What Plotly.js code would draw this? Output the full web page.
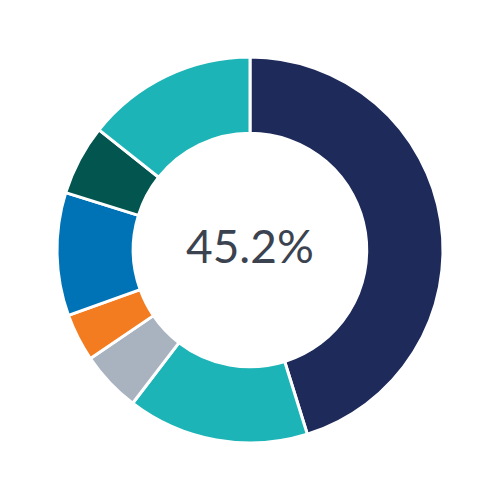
<!DOCTYPE html>
<html>
<head>
<meta charset="utf-8">
<script src="https://cdn.plot.ly/plotly-3.0.1.min.js"></script>
<style>html,body{margin:0;padding:0;background:#fff;}#chart{width:500px;height:500px;}</style>
</head>
<body>
<div id="chart"></div>
<script>
const categories = ["Segment A", "Segment B", "Segment C", "Segment D", "Segment E", "Segment F", "Segment G"];
const values = [45.2, 15.2, 5.1, 4.0, 10.3, 5.9, 14.3];
const colors = ["#1d2a5a", "#1cb4b7", "#a9b3c0", "#f37c20", "#0073b6", "#03554f", "#1cb4b7"];
const centerLabel = "45.2%";

Plotly.newPlot("chart", [{
  type: "pie",
  labels: categories,
  values: values,
  hole: 0.605,
  sort: false,
  direction: "clockwise",
  rotation: 0,
  textinfo: "none",
  hoverinfo: "none",
  marker: {colors: colors, line: {color: "#ffffff", width: 3}}
}], {
  width: 500, height: 500,
  margin: {l: 57, r: 57, t: 57, b: 57},
  showlegend: false,
  paper_bgcolor: "#ffffff",
  annotations: [{
    text: centerLabel, x: 0.5, y: 0.5, xref: "paper", yref: "paper",
    yshift: 5,
    showarrow: false, font: {family: "Lato", size: 46, color: "#3b4350"}
  }]
}, {displayModeBar: false, staticPlot: true});
</script>
</body>
</html>
